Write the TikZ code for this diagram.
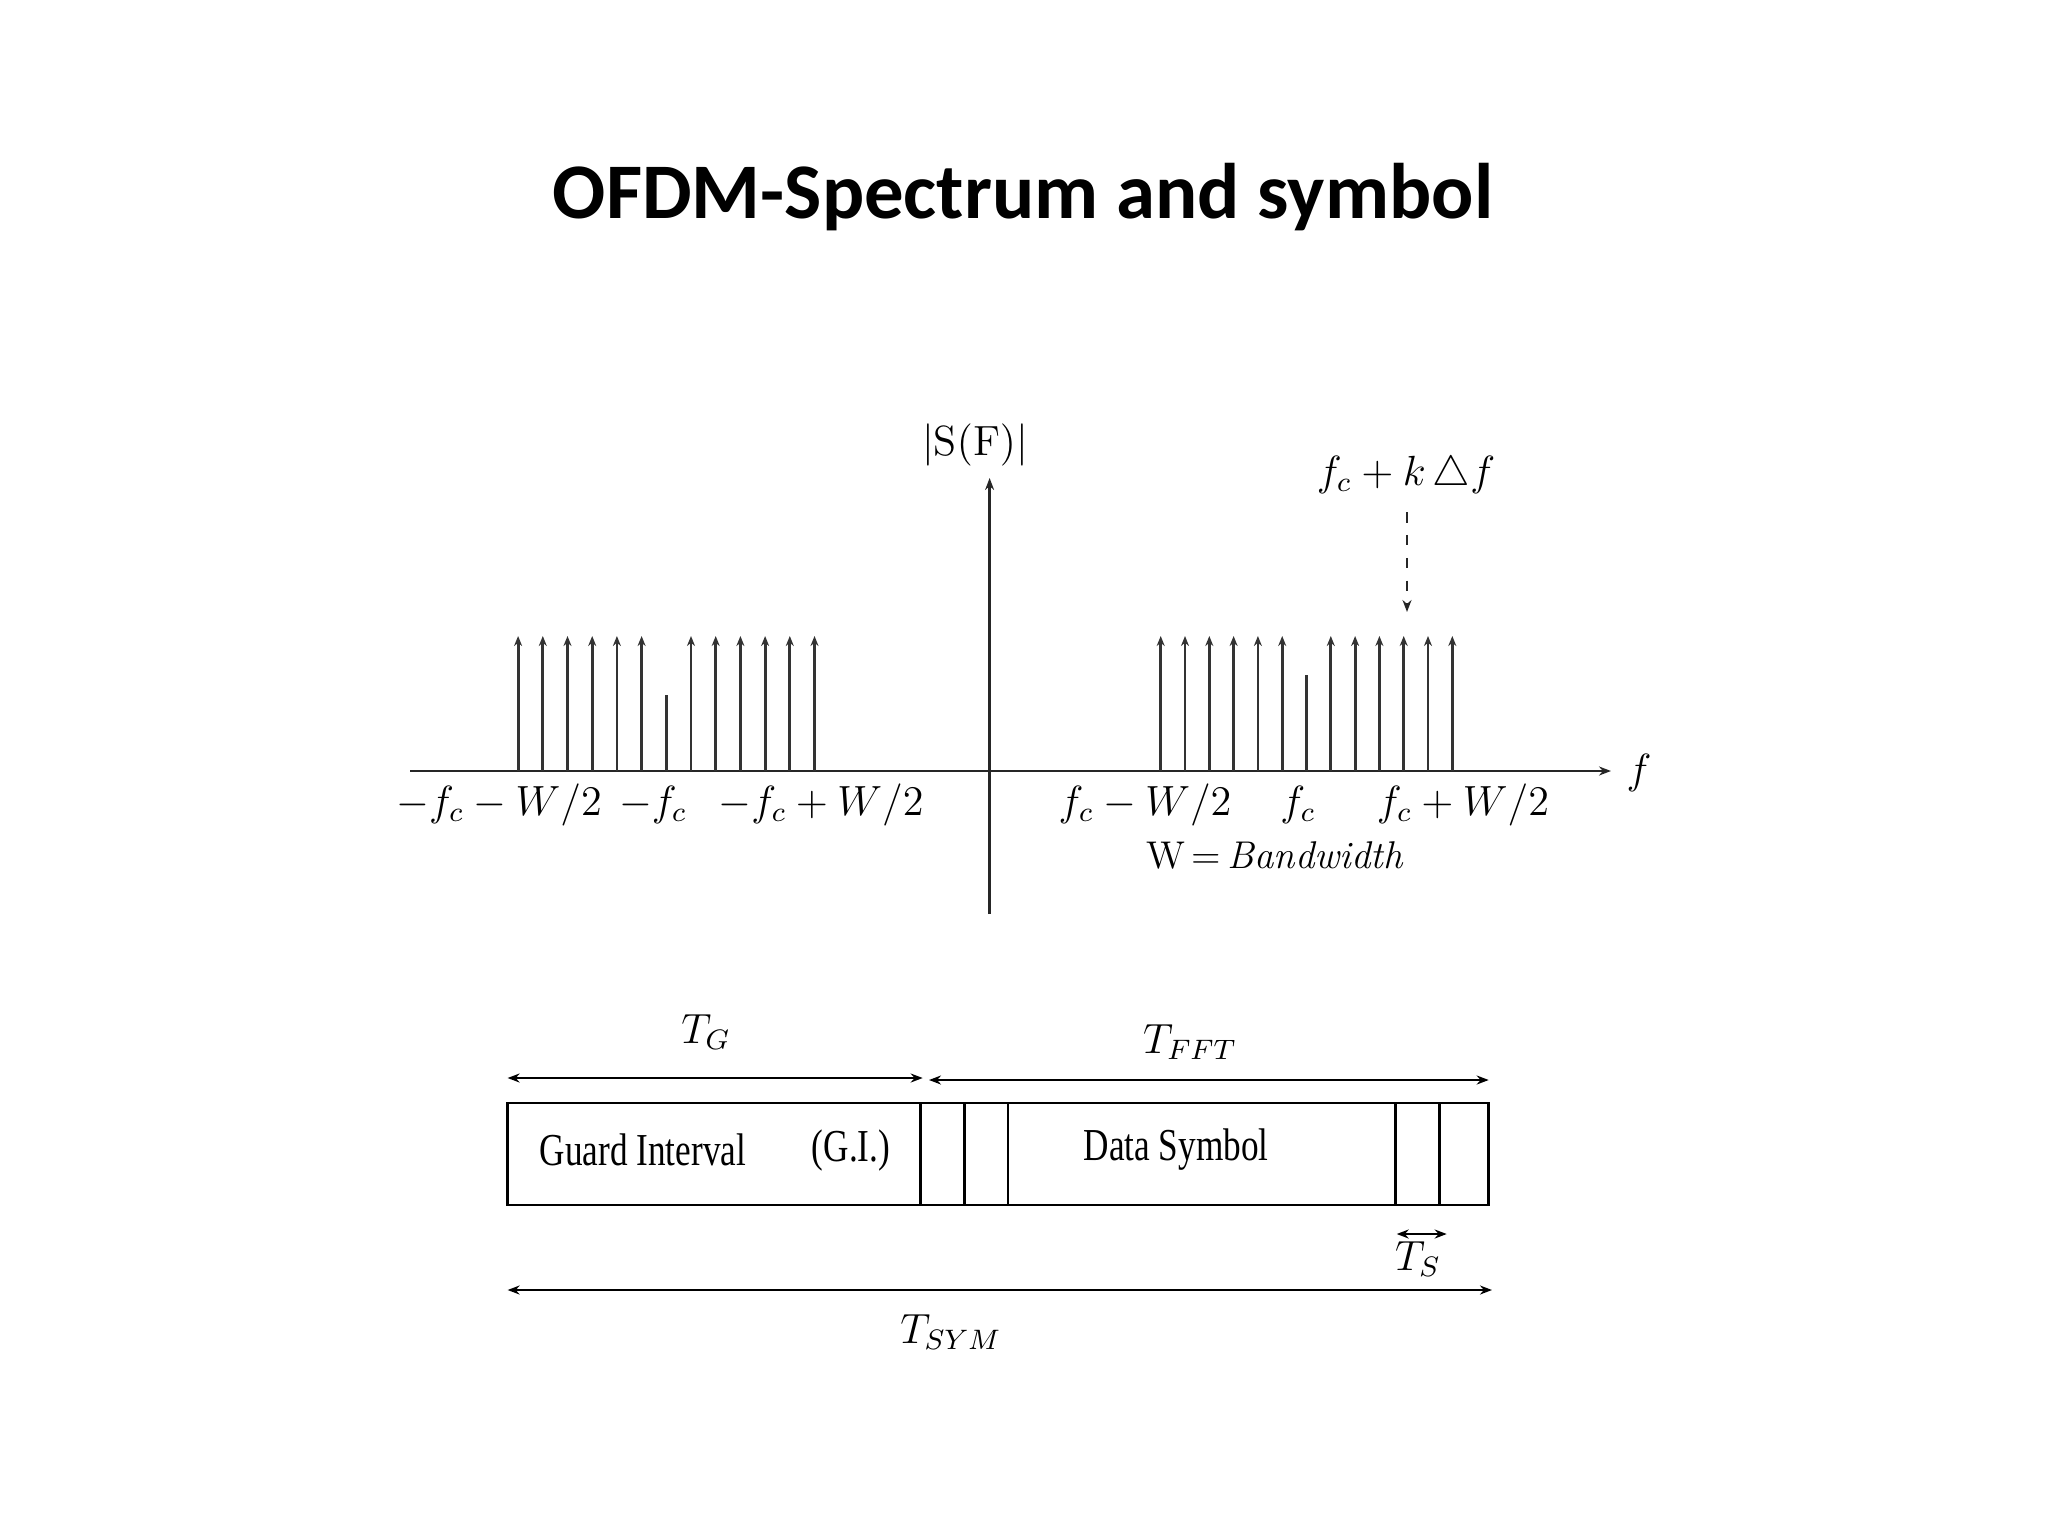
\documentclass[tikz,border=0pt]{standalone}
\usepackage{fontspec}
\newfontfamily\titlefont{Carlito}
\newfontfamily\condfont[FakeStretch=0.77]{Liberation Serif}
\usetikzlibrary{arrows.meta}

\begin{document}
\begin{tikzpicture}[x=0.01cm,y=-0.01cm,
  spike/.style={-{Stealth[length=1mm,width=0.8mm]},line width=0.8pt,black!80},
  ax/.style={-{Stealth[length=1.2mm,width=0.9mm]},line width=0.7pt,black!85},
  dim/.style={{Stealth[length=1.2mm,width=0.9mm]}-{Stealth[length=1.2mm,width=0.9mm]},line width=0.7pt},
  lbl/.style={font=\fontsize{12}{14}\selectfont,inner sep=1pt},
  tlbl/.style={font=\fontsize{12}{15}\selectfont,inner sep=1pt},
  txt/.style={font=\condfont\fontsize{13}{15}\selectfont,inner sep=1pt}
]
\useasboundingbox (0,0) rectangle (2048,1536);
\node[font=\titlefont\bfseries\fontsize{22.4}{27}\selectfont,anchor=base] (title) at (1023,218) {OFDM-Spectrum and symbol};

% spectrum axes
\coordinate (xs) at (410,771); \coordinate (xe) at (1611,771);
\coordinate (ys) at (989.6,914); \coordinate (ye) at (989.6,478);
\draw[ax] (xs) -- (xe);
\draw[ax] (ys) -- (ye);
\node[lbl] (sf) at (975,445) {$|\mathrm{S(F)}|$};
\node[lbl] (f) at (1639,773) {$f$};

% subcarriers, negative side
\foreach \i in {0,...,5,7,8,...,12}{
  \coordinate (lb\i) at (518.1+24.7*\i,771); \coordinate (lt\i) at (518.1+24.7*\i,636);
  \draw[spike] (lb\i) -- (lt\i);
}
\coordinate (lb6) at (666.3,771); \coordinate (lt6) at (666.3,695);
\draw[line width=0.8pt,black!80] (lb6) -- (lt6);
% subcarriers, positive side
\foreach \i in {0,...,5,7,8,...,12}{
  \coordinate (rb\i) at (1160.7+24.3*\i,771); \coordinate (rt\i) at (1160.7+24.3*\i,636);
  \draw[spike] (rb\i) -- (rt\i);
}
\coordinate (rb6) at (1306.5,771); \coordinate (rt6) at (1306.5,675);
\draw[line width=0.8pt,black!80] (rb6) -- (rt6);

\node[lbl,anchor=base] (l1) at (499,815) {$-f_c-W/2$};
\node[lbl,anchor=base] (l2) at (653,815) {$-f_c$};
\node[lbl,anchor=base] (l3) at (821,815) {$-f_c+W/2$};
\node[lbl,anchor=base] (r1) at (1145,815) {$f_c-W/2$};
\node[lbl,anchor=base] (r2) at (1298,815) {$f_c$};
\node[lbl,anchor=base] (r3) at (1463,815) {$f_c+W/2$};
\node[lbl,anchor=base,font=\fontsize{11}{13}\selectfont] (bw) at (1275,868) {W\,=\,\textit{Bandwidth}};

\node[lbl] (kdf) at (1406,475) {$f_c+k\,\triangle f$};
\coordinate (kdfe) at (1407,612);
\draw[ax,dashed,dash pattern=on 3pt off 3.5pt,shorten <=4pt] (kdf.south -| kdfe) -- (kdfe);

% OFDM symbol
\coordinate (bl) at (507.6,1103); \coordinate (br) at (1488.7,1205);
\draw[line width=0.8pt] (bl) rectangle (br);
\foreach \x in {920.7,964.3,1008,1395.7,1439.3}
  \draw[line width=0.7pt] (\x,1103) -- (\x,1205);
\node[txt] (gi) at (643,1150) {Guard Interval};
\node[txt] (gia) at (851,1150) {(G.I.)};
\node[txt] (ds) at (1176,1150) {Data Symbol};

\coordinate (tg1) at (507.6,1078); \coordinate (tg2) at (922.7,1078);
\coordinate (tf1) at (929,1080); \coordinate (tf2) at (1488.7,1080);
\coordinate (ts1) at (1396.7,1234); \coordinate (ts2) at (1446.7,1234);
\coordinate (ty1) at (507.6,1290); \coordinate (ty2) at (1492,1290);
\draw[dim] (tg1) -- (tg2); \draw[dim] (tf1) -- (tf2);
\draw[dim] (ts1) -- (ts2); \draw[dim] (ty1) -- (ty2);
\node[tlbl] (tg) at (706,1032) {$T_G$};
\node[tlbl] (tfft) at (1190,1042) {$T_{FFT}$};
\node[tlbl] (ts) at (1418,1259) {$T_S$};
\node[tlbl] (tsym) at (951,1332) {$T_{SYM}$};
\end{tikzpicture}
\end{document}
